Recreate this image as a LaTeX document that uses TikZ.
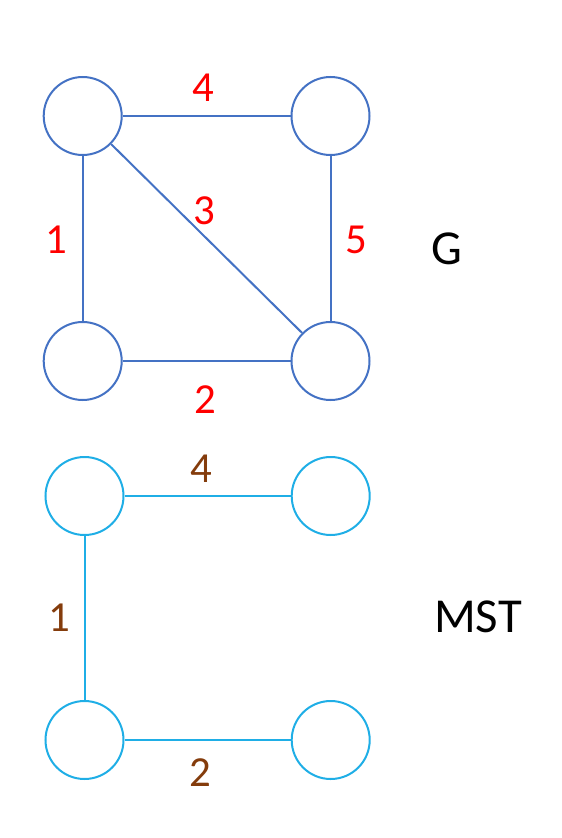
\documentclass[tikz,border=0pt]{standalone}
\usepackage{fontspec}
\setmainfont{Carlito}
\usepackage{tikz}
\usetikzlibrary{shapes}
\definecolor{gblue}{HTML}{4472C4}
\definecolor{gred}{HTML}{FF0000}
\definecolor{tblue}{HTML}{1FAEE6}
\definecolor{tbrown}{HTML}{843C0C}

\begin{document}
\begin{tikzpicture}[gnode/.style={draw=gblue,circle,line width=2bp,minimum size=78bp,inner sep=0pt},
  tnode/.style={draw=tblue,circle,line width=2bp,minimum size=78bp,inner sep=0pt},
  gedge/.style={gblue,line width=2bp},
  tedge/.style={tblue,line width=2bp},
  glabel/.style={text=gred,font=\fontsize{43}{50}\selectfont,inner sep=0pt},
  tlabel/.style={text=tbrown,font=\fontsize{43}{50}\selectfont,inner sep=0pt},
  title/.style={text=black,font=\fontsize{49}{56}\selectfont,inner sep=0pt}]
\useasboundingbox (0bp,0bp) rectangle (562bp,-838bp);

% graph G
\node (G11) at (82.7bp,-116bp)[gnode] {};
\node (G21) at (330.5bp,-116bp)[gnode] {};
\node (G12) at (82.7bp,-361bp)[gnode] {};
\node (G22) at (330.5bp,-361bp)[gnode] {};
\draw [gedge] (G11) to node[glabel,xshift=-3bp,yshift=28bp] {4} (G21);
\draw [gedge] (G11) to node[glabel,xshift=-26bp,yshift=-1.5bp] {1} (G12);
\draw [gedge] (G11) to node[glabel,xshift=-2.5bp,yshift=28bp] {3} (G22);
\draw [gedge] (G21) to node[glabel,xshift=25.5bp,yshift=-1.5bp] {5} (G22);
\draw [gedge] (G12) to node[glabel,xshift=-1.5bp,yshift=-39bp] {2} (G22);
\node (Gname) at (447bp,-248.5bp)[title] {G};

% spanning tree
\node (T11) at (84.5bp,-496bp)[tnode] {};
\node (T21) at (330.7bp,-496bp)[tnode] {};
\node (T12) at (84.5bp,-740bp)[tnode] {};
\node (T22) at (330.7bp,-740bp)[tnode] {};
\draw [tedge] (T11) to node[tlabel,xshift=-6bp,yshift=27bp] {4} (T21);
\draw [tedge] (T11) to node[tlabel,xshift=-25bp] {1} (T12);
\draw [tedge] (T12) to node[tlabel,xshift=-7bp,yshift=-33bp] {2} (T22);
\node (Tname) at (478bp,-617bp)[title] {MST};
\end{tikzpicture}
\end{document}
